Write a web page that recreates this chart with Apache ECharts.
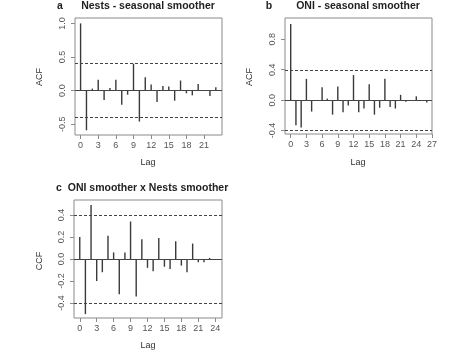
<!DOCTYPE html>
<html>
<head>
<meta charset="utf-8">
<script src="https://cdn.jsdelivr.net/npm/echarts@6/dist/echarts.min.js"></script>
<style>
  html, body { margin: 0; padding: 0; background: #fff; }
  #chart { width: 474px; height: 353px; }
</style>
</head>
<body>
<div id="chart"></div>
<script>
// panel a: Nests - seasonal smoother (ACF)
const lagsA = [0, 1, 2, 3, 4, 5, 6, 7, 8, 9, 10, 11, 12, 13, 14, 15, 16, 17, 18, 19, 20, 21, 22, 23]
const acfNests = [1.0, -0.59, 0.03, 0.16, -0.14, 0.04, 0.16, -0.21, -0.06, 0.40, -0.46, 0.20,
  0.09, -0.17, 0.07, 0.06, -0.15, 0.15, -0.04, -0.07, 0.10, 0.01, -0.08, 0.05]
const climA = 0.40

// panel b: ONI - seasonal smoother (ACF)
const lagsB = [0, 1, 2, 3, 4, 5, 6, 7, 8, 9, 10, 11, 12, 13, 14, 15, 16, 17, 18, 19, 20, 21, 22, 23, 24, 25, 26]
const acfOni = [1.0, -0.33, -0.36, 0.28, -0.15, -0.01, 0.17, 0.02, -0.19, 0.18, -0.16, -0.07,
  0.33, -0.16, -0.11, 0.21, -0.19, -0.10, 0.28, -0.09, -0.11, 0.07, -0.02, -0.01, 0.05, -0.01, -0.03]
const climB = 0.385

// panel c: ONI smoother x Nests smoother (CCF)
const lagsC = [0, 1, 2, 3, 4, 5, 6, 7, 8, 9, 10, 11, 12, 13, 14, 15, 16, 17, 18, 19, 20, 21, 22, 23]
const ccfOniNests = [0.20, -0.50, 0.49, -0.20, -0.12, 0.21, 0.06, -0.32, 0.06, 0.34, -0.34, 0.18,
  -0.08, -0.11, 0.19, -0.07, -0.09, 0.16, -0.06, -0.12, 0.14, -0.03, -0.03, 0.01]
const climC = 0.40

// tick labels
const xTicksA = [0, 3, 6, 9, 12, 15, 18, 21]
const xTicksB = [0, 3, 6, 9, 12, 15, 18, 21, 24, 27]
const xTicksC = [0, 3, 6, 9, 12, 15, 18, 21, 24]
const yTicksA = [-0.5, 0.0, 0.5, 1.0]
const yTicksB = [-0.4, 0.0, 0.4, 0.8]
const yTicksC = [-0.4, -0.2, 0.0, 0.2, 0.4]

const FONT = 'Liberation Sans, Arial, sans-serif'
const boxColor = '#8a8a8a'
const barColor = '#3a3a3a'

const chart = echarts.init(document.getElementById('chart'))

const grids = [
  { left: 75, top: 18, width: 147, height: 117 },
  { left: 285, top: 18, width: 147, height: 116 },
  { left: 74, top: 200, width: 148, height: 118 }
]

const xRanges = [[-0.95, 24.05], [-1.09, 27.0], [-1.02, 25.2]]
const yRanges = [[-0.66, 1.08], [-0.445, 1.08], [-0.535, 0.535]]
const xTicks = [xTicksA, xTicksB, xTicksC]
const yTicks = [yTicksA, yTicksB, yTicksC]

const makeX = (i) => ({
  type: 'value',
  gridIndex: i,
  min: xRanges[i][0],
  max: xRanges[i][1],
  axisLine: { show: false, onZero: false },
  splitLine: { show: false },
  axisTick: { show: true, length: 4, customValues: xTicks[i], lineStyle: { color: boxColor } },
  axisLabel: {
    customValues: xTicks[i], fontSize: 9, color: '#555', fontFamily: FONT, margin: 6
  }
})

const makeY = (i) => ({
  type: 'value',
  gridIndex: i,
  min: yRanges[i][0],
  max: yRanges[i][1],
  axisLine: { show: false, onZero: false },
  splitLine: { show: false },
  axisTick: { show: true, length: 4, customValues: yTicks[i], lineStyle: { color: boxColor } },
  axisLabel: {
    customValues: yTicks[i], rotate: 90, fontSize: 9, color: '#555', fontFamily: FONT, margin: 8,
    hideOverlap: false,
    formatter: v => (Math.abs(v) < 1e-9 ? 0 : v).toFixed(1)
  }
})

const makeSeries = (i, lags, vals, clim) => ({
  type: 'bar',
  xAxisIndex: i,
  yAxisIndex: i,
  barWidth: 1.4,
  itemStyle: { color: barColor },
  data: lags.map((l, k) => [l, vals[k]]),
  markLine: {
    silent: true,
    symbol: 'none',
    label: { show: false },
    data: [
      { yAxis: 0, lineStyle: { type: 'solid', color: '#444', width: 1 } },
      { yAxis: clim, lineStyle: { type: [3, 2], color: '#444', width: 1 } },
      { yAxis: -clim, lineStyle: { type: [3, 2], color: '#444', width: 1 } }
    ]
  }
})

const txt = (x, y, text, opts = {}) => ({
  type: 'text',
  x, y,
  rotation: opts.rotation || 0,
  style: {
    text,
    fontSize: opts.size || 9,
    fontWeight: opts.bold ? 'bold' : 'normal',
    fontFamily: FONT,
    fill: opts.color || '#333',
    align: 'center',
    verticalAlign: 'middle'
  }
})

const option = {
  animation: false,
  backgroundColor: '#fff',
  grid: grids.map(g => ({ ...g, show: true, borderColor: boxColor, borderWidth: 1, containLabel: false })),
  xAxis: [0, 1, 2].map(makeX),
  yAxis: [0, 1, 2].map(makeY),
  series: [
    makeSeries(0, lagsA, acfNests, climA),
    makeSeries(1, lagsB, acfOni, climB),
    makeSeries(2, lagsC, ccfOniNests, climC)
  ],
  graphic: [
    txt(60, 6, 'a', { bold: true, size: 10.5, color: '#222' }),
    txt(148, 6, 'Nests - seasonal smoother', { bold: true, size: 10.5, color: '#222' }),
    txt(269, 6, 'b', { bold: true, size: 10.5, color: '#222' }),
    txt(358, 6, 'ONI - seasonal smoother', { bold: true, size: 10.5, color: '#222' }),
    txt(59, 188, 'c', { bold: true, size: 10.5, color: '#222' }),
    txt(148, 188, 'ONI smoother x Nests smoother', { bold: true, size: 10.5, color: '#222' }),
    txt(40, 77, 'ACF', { rotation: Math.PI / 2 }),
    txt(148, 163, 'Lag'),
    txt(250, 77, 'ACF', { rotation: Math.PI / 2 }),
    txt(358, 163, 'Lag'),
    txt(40, 261, 'CCF', { rotation: Math.PI / 2 }),
    txt(148, 346, 'Lag')
  ]
}

chart.setOption(option)
</script>
</body>
</html>
